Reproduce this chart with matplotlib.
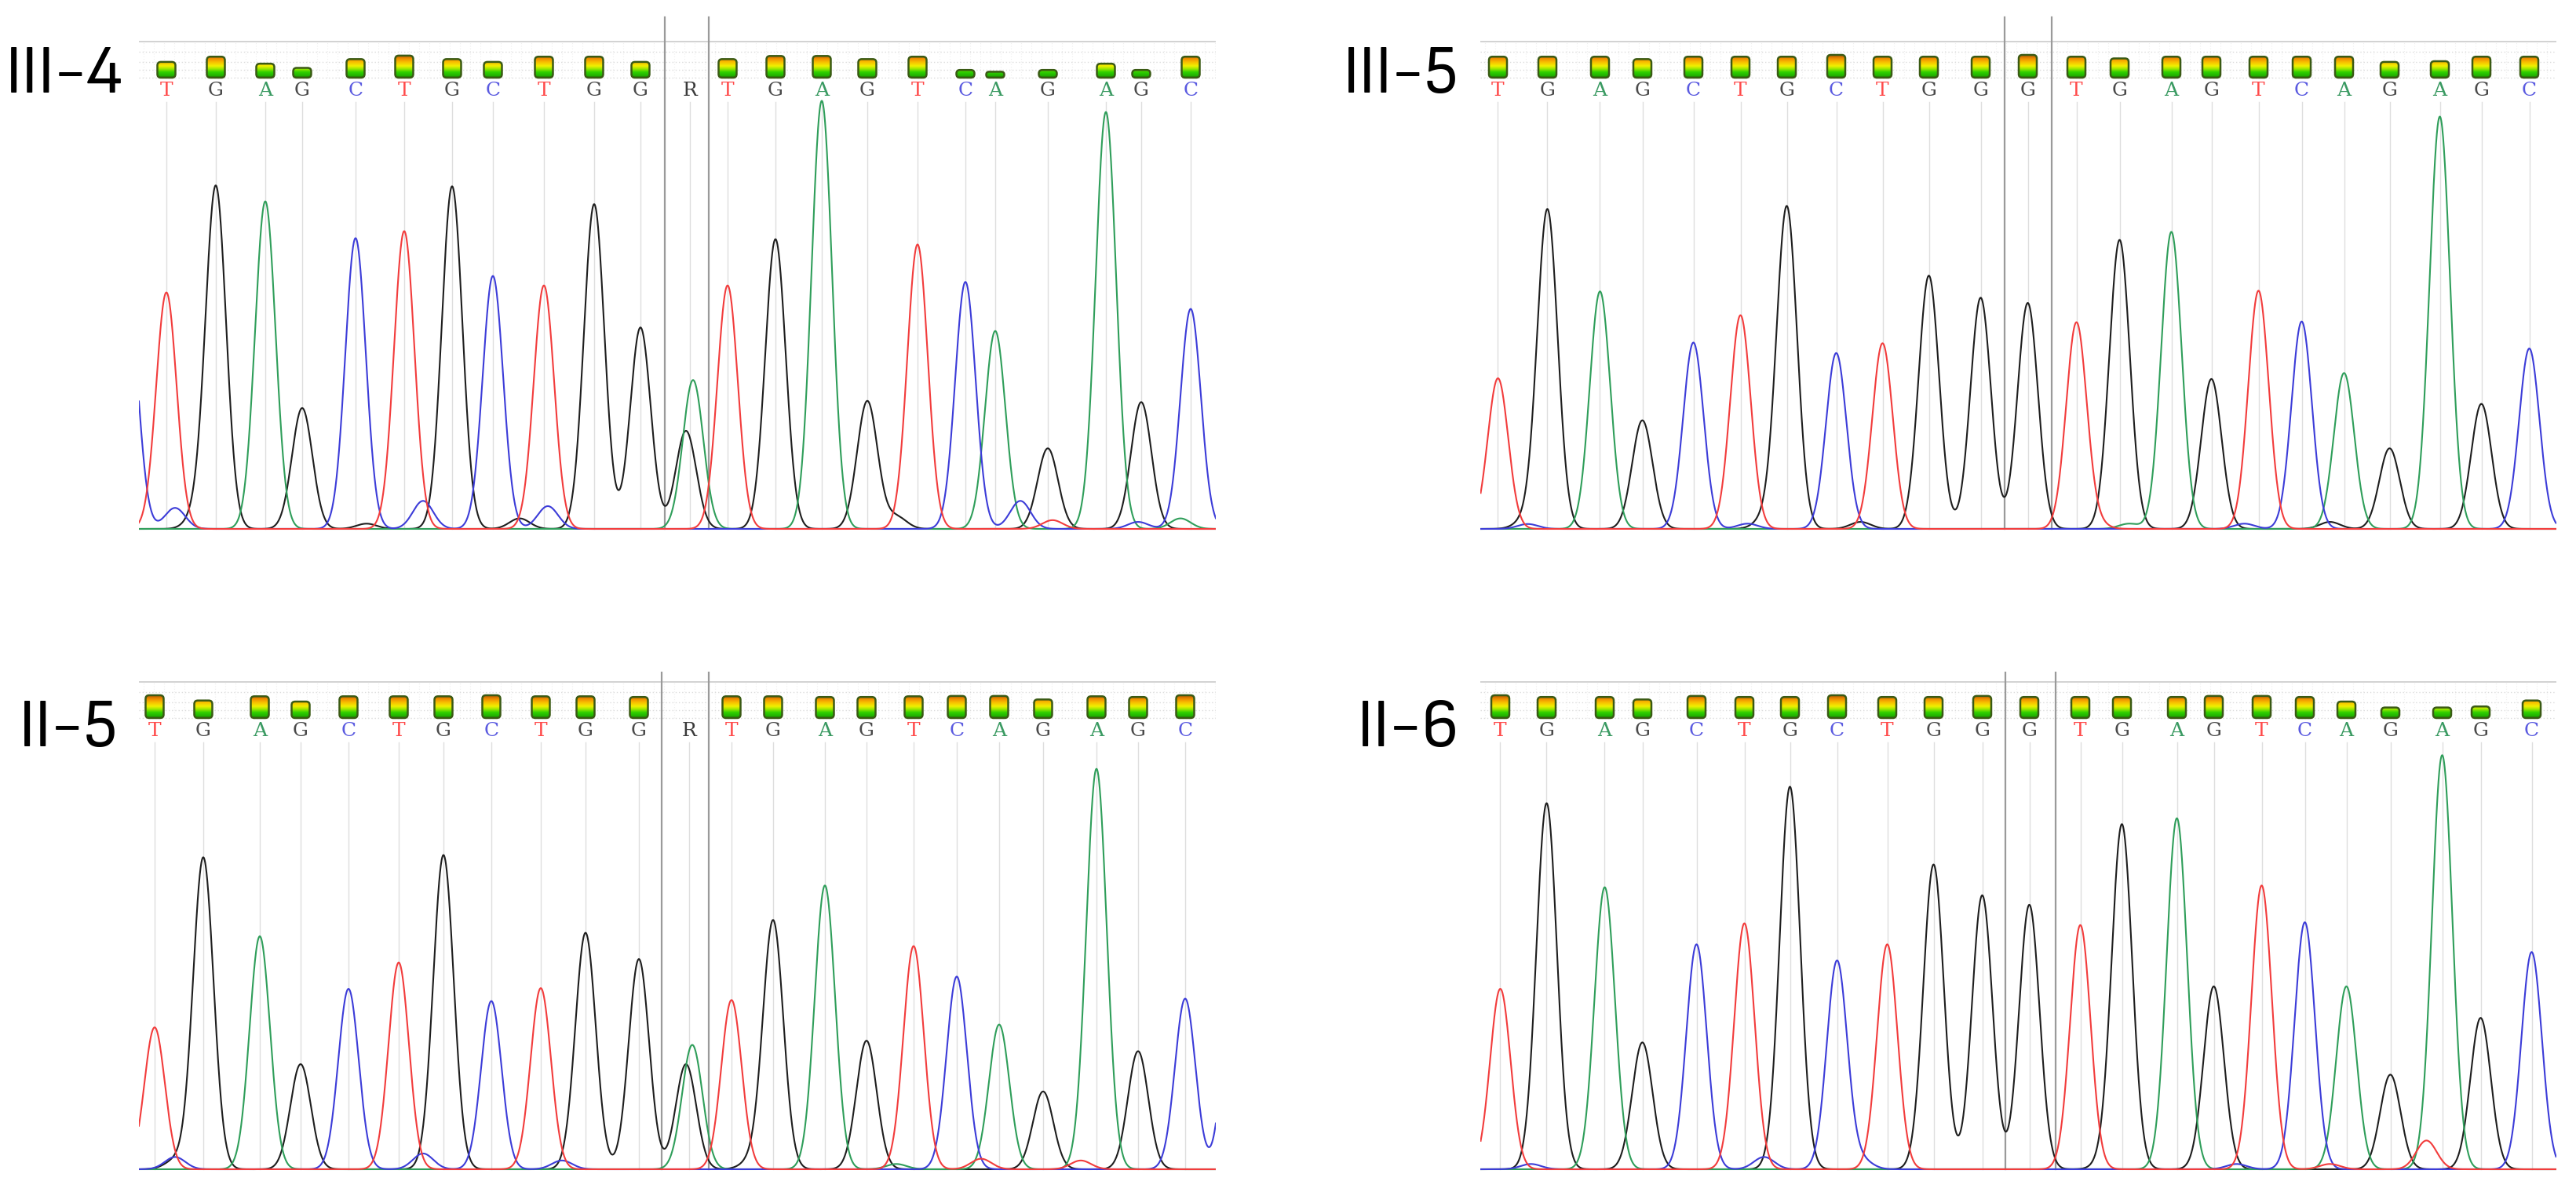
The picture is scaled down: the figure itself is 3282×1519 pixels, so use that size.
import numpy as np
import matplotlib
matplotlib.use("Agg")
import matplotlib.pyplot as plt
from matplotlib.patches import FancyBboxPatch
from matplotlib.colors import LinearSegmentedColormap
from matplotlib import font_manager as fm

# ---------------- data ----------------
labels = ["III-4", "III-5", "II-5", "II-6"]

calls_1 = "TGAGCTGCTGGRTGAGTCAGAGC"
calls_2 = "TGAGCTGCTGGGTGAGTCAGAGC"
calls_3 = "TGAGCTGCTGGRTGAGTCAGAGC"
calls_4 = "TGAGCTGCTGGGTGAGTCAGAGC"

call_pos_1 = [35, 98, 161, 208, 276, 338, 399, 451, 516, 580, 639, 702, 750, 811, 870, 928, 992, 1053, 1091, 1158, 1232, 1277, 1340]
call_pos_2 = [22, 85, 152, 206, 271, 331, 390, 453, 512, 571, 637, 697, 759, 814, 880, 931, 991, 1046, 1100, 1158, 1222, 1275, 1336]
call_pos_3 = [20, 82, 154, 206, 267, 331, 388, 449, 512, 569, 637, 701, 755, 808, 874, 927, 987, 1042, 1096, 1152, 1220, 1273, 1333]
call_pos_4 = [25, 84, 158, 206, 275, 336, 394, 454, 518, 577, 639, 699, 764, 817, 887, 934, 995, 1050, 1103, 1159, 1225, 1274, 1339]

quality_1 = [45, 60, 40, 28, 53, 63, 53, 45, 60, 60, 45, 0, 53, 62, 62, 53, 60, 22, 17, 22, 40, 22, 60]
quality_2 = [60, 60, 60, 53, 60, 60, 60, 65, 60, 60, 60, 65, 60, 55, 60, 60, 60, 60, 60, 45, 47, 60, 60]
quality_3 = [65, 50, 62, 47, 62, 62, 62, 65, 62, 62, 60, 0, 62, 62, 60, 60, 62, 63, 63, 53, 62, 60, 65]
quality_4 = [65, 60, 60, 53, 63, 60, 60, 65, 60, 60, 63, 60, 60, 60, 60, 63, 63, 60, 47, 30, 30, 33, 50]

# trace peaks: channel, position, height
peak_ch_1 = list("CTGAGCTGCTGGGATGAGTCAGAGC") + list("CGCCGCGACGT")
peak_pos_1 = [-14, 35, 98, 161, 208, 276, 338, 399, 451, 516, 580, 639, 697, 706, 750, 811, 870, 928, 992, 1053, 1091, 1158, 1232, 1277, 1340,
              46, 73, 362, 521, 485, 1123, 965, 1327, 1273, 290, 1164]
peak_h_1 = [650, 675, 975, 935, 345, 830, 850, 978, 722, 695, 927, 575, 280, 425, 695, 827, 1222, 365, 812, 705, 565, 230, 1190, 362, 628,
            60, 35, 80, 65, 30, 80, 35, 30, 20, 15, 25]

peak_ch_2 = list("TGAGCTGCTGGGTGAGTCAGAGC") + list("GGGATCGGCC")
peak_pos_2 = [22, 85, 152, 206, 271, 331, 390, 453, 512, 571, 637, 697, 759, 814, 880, 931, 991, 1046, 1100, 1158, 1222, 1275, 1336,
              55, 361, 484, 826, 785, 973, 1082, 1274, 60, 340]
peak_h_2 = [430, 912, 678, 310, 532, 610, 920, 502, 530, 723, 660, 645, 588, 825, 848, 428, 680, 592, 445, 230, 1177, 342, 515,
            20, 25, 20, 15, 15, 15, 20, 15, 14, 15]

peak_ch_3 = list("TGAGCTGCTGGGATGAGTCAGAGCC") + list("CGCCGATT")
peak_pos_3 = [20, 82, 154, 206, 267, 331, 388, 449, 512, 569, 637, 697, 705, 755, 808, 874, 927, 987, 1042, 1096, 1152, 1220, 1273, 1333, 1395,
              46, 46, 362, 539, 779, 965, 1073, 1200]
peak_h_3 = [405, 890, 665, 300, 515, 590, 897, 480, 517, 675, 600, 300, 355, 483, 710, 810, 367, 637, 550, 413, 222, 1143, 337, 487, 600,
            35, 25, 45, 25, 20, 15, 30, 25]

peak_ch_4 = list("TGAGCTGCTGGGTGAGTCAGAGC") + list("CCCGTTC")
peak_pos_4 = [25, 84, 158, 206, 275, 336, 394, 454, 518, 577, 639, 699, 764, 817, 887, 934, 995, 1050, 1103, 1159, 1225, 1274, 1339,
              64, 361, 486, 794, 1205, 1082, 963]
peak_h_4 = [515, 1045, 805, 362, 642, 702, 1092, 595, 642, 870, 782, 755, 697, 982, 1002, 522, 810, 705, 522, 270, 1182, 432, 620,
            15, 35, 25, 15, 82, 15, 15]

separators_1 = [670, 726]
separators_2 = [667, 727]
separators_3 = [666, 726]
separators_4 = [668, 732]

# ---------------- style ----------------
W, H = 3282, 1519
PX = 2.24          # signal units per pixel
SIGMA = 13.0       # peak width (px)
trace_col = {"G": "#1e1e1e", "A": "#2f9e5a", "C": "#3c3cd8", "T": "#f23c3c"}
letter_col = {"G": "#4a4a4a", "A": "#3a9a62", "C": "#5a5ae0", "T": "#ff4a4a", "R": "#3a3a3a"}

qcmap = LinearSegmentedColormap.from_list("q", [
    (0.00, "#1a7000"), (0.08, "#20b000"), (0.24, "#30d000"), (0.38, "#a0e800"),
    (0.50, "#f0f000"), (0.66, "#f8c000"), (0.80, "#f09000"), (1.00, "#b05000")])


def find_label_font():
    want = None
    for f in fm.fontManager.ttflist:
        if f.name == "Liberation Sans Narrow" and f.style == "normal" and f.weight in (400, "normal", "regular"):
            return fm.FontProperties(fname=f.fname)
    for f in fm.fontManager.ttflist:
        if f.style == "normal" and f.weight in (400, "normal", "regular") and (
                "Narrow" in f.name or "Condensed" in f.name or f.stretch in ("condensed", "semi-condensed")):
            if want is None or "Sans" in f.name:
                want = f
    if want is not None:
        return fm.FontProperties(fname=want.fname)
    return fm.FontProperties(family="Liberation Sans")


label_font = find_label_font()

fig = plt.figure(figsize=(W / 100, H / 100), dpi=100)
fig.patch.set_facecolor("white")

geom = [  # left px, baseline px, width px, separator top px, label right x, label centre y
    (177, 674, 1372, 652, 157, 86),
    (1886.5, 674, 1370, 652, 1859, 86),
    (177, 1490, 1372, 633, 151, 919),
    (1886.5, 1490, 1370, 633, 1859, 919),
]

panels = [
    (calls_1, call_pos_1, quality_1, peak_ch_1, peak_pos_1, peak_h_1, separators_1),
    (calls_2, call_pos_2, quality_2, peak_ch_2, peak_pos_2, peak_h_2, separators_2),
    (calls_3, call_pos_3, quality_3, peak_ch_3, peak_pos_3, peak_h_3, separators_3),
    (calls_4, call_pos_4, quality_4, peak_ch_4, peak_pos_4, peak_h_4, separators_4),
]

grad = np.linspace(0, 1, 256).reshape(-1, 1)
label_texts = []

for (label, (calls, cpos, qual, pch, ppos, ph, seps), (left, base, width, septop, lx, ly)) in zip(labels, panels, geom):
    ax = fig.add_axes([left / W, (H - (base + 8)) / H, width / W, 664 / H])
    ax.axis("off")
    x = np.linspace(0, width, 4000)

    # header grid
    ax.plot([0, width], [621 * PX] * 2, color="#d2d2d2", lw=1.4, zorder=1)
    for yy in (608, 595, 585, 575):
        ax.plot([0, width], [yy * PX] * 2, color="#dcdcdc", lw=1.0, ls=(0, (1, 2)), zorder=1)
    for xx in np.arange(6, width, 13.0):
        ax.plot([xx, xx], [575 * PX, 621 * PX], color="#efefef", lw=0.8, ls=(0, (1, 2)), zorder=0.5)

    # guide lines per base
    for p in cpos:
        ax.plot([p, p], [0, 544 * PX], color="#dedede", lw=1.0, zorder=1)

    # separators
    for s in seps:
        ax.plot([s, s], [0, septop * PX], color="#9a9a9a", lw=1.6, zorder=2)

    # traces
    for ch in "GACT":
        y = np.zeros_like(x)
        for c, p, h in zip(pch, ppos, ph):
            if c == ch:
                y += h * np.exp(-0.5 * ((x - p) / SIGMA) ** 2)
        ax.plot(x, y, color=trace_col[ch], lw=1.5, zorder=4, solid_joinstyle="round")

    # letters and quality boxes
    bw = 23
    for c, p, q in zip(calls, cpos, qual):
        ax.text(p, 558 * PX, c, ha="center", va="center", fontsize=18,
                family="DejaVu Serif", color=letter_col[c], zorder=5)
        if q <= 0:
            continue
        hpx = q / PX
        yb = 575 * PX
        rs = min(4.5, hpx / 2.0 - 0.1)
        box = FancyBboxPatch((p - bw / 2, yb), bw, hpx * PX,
                             boxstyle=f"round,pad=0,rounding_size={rs}",
                             mutation_aspect=PX, fc="none", ec="#3a5a14", lw=1.8, zorder=6)
        ax.add_patch(box)
        im = ax.imshow(grad, extent=[p - bw / 2, p + bw / 2, yb, yb + 30 * PX], origin="lower",
                       cmap=qcmap, aspect="auto", zorder=5, interpolation="bilinear")
        im.set_clip_path(box)

    ax.set_xlim(0, width)
    ax.set_ylim(-8 * PX, 656 * PX)

    t = fig.text(lx / W, 1 - ly / H, label, ha="right", va="center_baseline",
                 fontproperties=label_font, fontsize=80, color="black")
    label_texts.append((t, lx, ly))

# fit label sizes: reference labels are about 147 px wide ("III-x") and ~80 px tall
renderer = fig.canvas.get_renderer()
t0 = label_texts[0][0]
w0 = t0.get_window_extent(renderer).width
scale = min(1.0, 150.0 / w0)
for t, lx, ly in label_texts:
    fs = 80 * scale
    t.set_fontsize(fs)
    cap = 0.72 * fs
    t.set_va("baseline")
    t.set_position((lx / W, 1 - (ly + 0.5 * cap * 100 / 72) / H))

fig.savefig("out.png", dpi=100, facecolor="white")
